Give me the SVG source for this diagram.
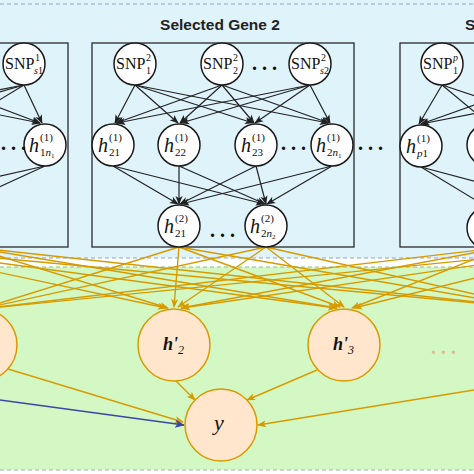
<svg xmlns="http://www.w3.org/2000/svg" width="474" height="474" viewBox="0 0 474 474">
<style>
.nd{fill:#ffffff;stroke:#1a1a1a;stroke-width:1.5}
.box{fill:none;stroke:#2a2a2a;stroke-width:1.3}
.bk{stroke:#222;stroke-width:1.2;fill:none}
.or{stroke:#d79b00;stroke-width:1.4;fill:none}
.bl{stroke:#3b46a8;stroke-width:1.5;fill:none}
.hp{fill:#ffe6cc;stroke:#d79b00;stroke-width:1.5}
.m{font-family:"Liberation Serif","DejaVu Serif",serif;fill:#111}
.big{font-size:16px}
.sc{font-size:10px}
.it{font-style:italic}
.hh{font-size:20px;font-style:italic}
.hs{font-size:11px}
.dots{font-family:"Liberation Serif",serif;font-size:20px;font-weight:bold;fill:#111}
.ttl{font-family:"Liberation Sans",Arial,sans-serif;font-weight:bold;font-size:15.5px;fill:#222}
</style>
<defs>
<marker id="ab" viewBox="0 0 10 10" refX="9" refY="5" markerWidth="9" markerHeight="9" orient="auto" markerUnits="userSpaceOnUse"><path d="M0,1 L10,5 L0,9 L2.5,5 z" fill="#222"/></marker>
<marker id="ao" viewBox="0 0 10 10" refX="9" refY="5" markerWidth="9" markerHeight="9" orient="auto" markerUnits="userSpaceOnUse"><path d="M0,1 L10,5 L0,9 L2.5,5 z" fill="#d79b00"/></marker>
<marker id="ablu" viewBox="0 0 10 10" refX="9" refY="5" markerWidth="10" markerHeight="10" orient="auto" markerUnits="userSpaceOnUse"><path d="M0,1 L10,5 L0,9 L2.5,5 z" fill="#3b46a8"/></marker>
</defs>

<g id="background">
<rect x="0" y="0" width="474" height="474" fill="#ffffff"/>
<rect x="0" y="0" width="474" height="258" fill="#dff3fb"/>
<rect x="0" y="267" width="474" height="203" fill="#d4f8c4"/>
<line x1="0" y1="4" x2="474" y2="4" stroke="#8aa6c4" stroke-width="1.2" stroke-dasharray="4,3"/>
<line x1="0" y1="258" x2="474" y2="258" stroke="#8aa6c4" stroke-width="1.2" stroke-dasharray="4,3"/>
<line x1="0" y1="267" x2="474" y2="267" stroke="#8fbf7a" stroke-width="1.2" stroke-dasharray="4,3"/>
<line x1="0" y1="470" x2="474" y2="470" stroke="#a0b8a0" stroke-width="1.2" stroke-dasharray="4,3"/>
</g>

<g id="titles">
<text class="ttl" x="220" y="30" text-anchor="middle">Selected Gene 2</text>
<text class="ttl" x="465" y="30">S</text>
</g>

<g id="boxes">
<rect class="box" x="-10" y="43" width="78" height="204"/>
<rect class="box" x="92" y="43" width="262" height="204"/>
<rect class="box" x="400" y="43" width="100" height="204"/>
</g>

<g id="connectors">
<line class="bk" x1="24" y1="85" x2="42" y2="123" marker-end="url(#ab)"/>
<line class="bk" x1="24" y1="85" x2="-40" y2="124"/>
<line class="bk" x1="24" y1="85" x2="-110" y2="124"/>
<line class="bk" x1="24" y1="85" x2="-180" y2="124"/>
<line class="bk" x1="-60" y1="85" x2="40" y2="123" marker-end="url(#ab)"/>
<line class="bk" x1="-150" y1="85" x2="40" y2="123" marker-end="url(#ab)"/>
<line class="bk" x1="45" y1="166" x2="-40" y2="205"/>
<line class="bk" x1="45" y1="166" x2="-130" y2="205"/>
<line class="bk" x1="135" y1="85" x2="115" y2="123" marker-end="url(#ab)"/>
<line class="bk" x1="135" y1="85" x2="178" y2="123" marker-end="url(#ab)"/>
<line class="bk" x1="135" y1="85" x2="253" y2="123" marker-end="url(#ab)"/>
<line class="bk" x1="135" y1="85" x2="328" y2="123" marker-end="url(#ab)"/>
<line class="bk" x1="222" y1="85" x2="116" y2="123" marker-end="url(#ab)"/>
<line class="bk" x1="222" y1="85" x2="180" y2="123" marker-end="url(#ab)"/>
<line class="bk" x1="222" y1="85" x2="254" y2="123" marker-end="url(#ab)"/>
<line class="bk" x1="222" y1="85" x2="329" y2="123" marker-end="url(#ab)"/>
<line class="bk" x1="310" y1="85" x2="117" y2="123" marker-end="url(#ab)"/>
<line class="bk" x1="310" y1="85" x2="181" y2="123" marker-end="url(#ab)"/>
<line class="bk" x1="310" y1="85" x2="255" y2="123" marker-end="url(#ab)"/>
<line class="bk" x1="310" y1="85" x2="330" y2="123" marker-end="url(#ab)"/>
<line class="bk" x1="113" y1="166" x2="178" y2="204" marker-end="url(#ab)"/>
<line class="bk" x1="113" y1="166" x2="264" y2="204" marker-end="url(#ab)"/>
<line class="bk" x1="179" y1="166" x2="179" y2="204" marker-end="url(#ab)"/>
<line class="bk" x1="179" y1="166" x2="265" y2="204" marker-end="url(#ab)"/>
<line class="bk" x1="256" y1="166" x2="180" y2="204" marker-end="url(#ab)"/>
<line class="bk" x1="256" y1="166" x2="266" y2="204" marker-end="url(#ab)"/>
<line class="bk" x1="332" y1="166" x2="181" y2="204" marker-end="url(#ab)"/>
<line class="bk" x1="332" y1="166" x2="267" y2="204" marker-end="url(#ab)"/>
<line class="bk" x1="442" y1="85" x2="419" y2="124" marker-end="url(#ab)"/>
<line class="bk" x1="442" y1="85" x2="489" y2="124"/>
<line class="bk" x1="442" y1="85" x2="560" y2="124"/>
<line class="bk" x1="530" y1="85" x2="421" y2="124" marker-end="url(#ab)"/>
<line class="bk" x1="620" y1="85" x2="421" y2="124" marker-end="url(#ab)"/>
<line class="bk" x1="421" y1="167" x2="487" y2="207"/>
<line class="bk" x1="421" y1="167" x2="570" y2="207"/>
<line class="or" x1="-120" y1="247" x2="166" y2="308" marker-end="url(#ao)"/>
<line class="or" x1="-30" y1="247" x2="168" y2="308" marker-end="url(#ao)"/>
<line class="or" x1="179" y1="247" x2="174" y2="307" marker-end="url(#ao)"/>
<line class="or" x1="266" y1="247" x2="178" y2="307" marker-end="url(#ao)"/>
<line class="or" x1="505" y1="247" x2="181" y2="308" marker-end="url(#ao)"/>
<line class="or" x1="600" y1="247" x2="182" y2="308" marker-end="url(#ao)"/>
<line class="or" x1="-120" y1="247" x2="336" y2="308" marker-end="url(#ao)"/>
<line class="or" x1="-30" y1="247" x2="337" y2="308" marker-end="url(#ao)"/>
<line class="or" x1="179" y1="247" x2="340" y2="307" marker-end="url(#ao)"/>
<line class="or" x1="266" y1="247" x2="344" y2="307" marker-end="url(#ao)"/>
<line class="or" x1="505" y1="247" x2="352" y2="308" marker-end="url(#ao)"/>
<line class="or" x1="600" y1="247" x2="354" y2="308" marker-end="url(#ao)"/>
<line class="or" x1="-120" y1="247" x2="-19" y2="309"/>
<line class="or" x1="-30" y1="247" x2="-19" y2="309"/>
<line class="or" x1="179" y1="247" x2="-19" y2="309"/>
<line class="or" x1="266" y1="247" x2="-19" y2="309"/>
<line class="or" x1="505" y1="247" x2="-19" y2="309"/>
<line class="or" x1="600" y1="247" x2="-19" y2="309"/>
<line class="or" x1="-120" y1="247" x2="540" y2="309"/>
<line class="or" x1="-30" y1="247" x2="540" y2="309"/>
<line class="or" x1="179" y1="247" x2="540" y2="309"/>
<line class="or" x1="266" y1="247" x2="540" y2="309"/>
<line class="or" x1="505" y1="247" x2="540" y2="309"/>
<line class="or" x1="600" y1="247" x2="540" y2="309"/>
<line class="or" x1="8" y1="369" x2="183" y2="422" marker-end="url(#ao)"/>
<line class="bl" x1="0" y1="400" x2="184" y2="425" marker-end="url(#ablu)"/>
<line class="or" x1="175" y1="380" x2="195" y2="400" marker-end="url(#ao)"/>
<line class="or" x1="317" y1="370" x2="247" y2="400" marker-end="url(#ao)"/>
<line class="or" x1="474" y1="390" x2="258" y2="425" marker-end="url(#ao)"/>
</g>

<g id="snp1_s1">
<circle class="nd" cx="24" cy="64" r="21"/>
<text class="m big" x="5" y="69">SNP</text>
<text class="m sc" x="35" y="61">1</text>
<text class="m sc" x="34" y="74"><tspan class="it">s</tspan>1</text>
</g>
<g id="h1_1n1">
<circle class="nd" cx="45" cy="145" r="21"/>
<text class="m hh" x="29" y="152">h</text>
<text class="m hs" x="40" y="141">(1)</text>
<text class="m hs" x="40" y="156">1<tspan class="it">n</tspan><tspan font-size="7" dy="2">1</tspan></text>
</g>

<g id="snp2_1">
<circle class="nd" cx="135" cy="64" r="21"/>
<text class="m big" x="116" y="69">SNP</text>
<text class="m sc" x="146" y="61">2</text>
<text class="m sc" x="146" y="74">1</text>
</g>
<g id="snp2_2">
<circle class="nd" cx="222" cy="64" r="21"/>
<text class="m big" x="203" y="69">SNP</text>
<text class="m sc" x="233" y="61">2</text>
<text class="m sc" x="233" y="74">2</text>
</g>
<g id="snp2_s2">
<circle class="nd" cx="310" cy="64" r="21"/>
<text class="m big" x="291" y="69">SNP</text>
<text class="m sc" x="321" y="61">2</text>
<text class="m sc" x="320" y="74"><tspan class="it">s</tspan>2</text>
</g>
<g id="h1_21">
<circle class="nd" cx="113" cy="145" r="21"/>
<text class="m hh" x="98" y="152">h</text>
<text class="m hs" x="109" y="141">(1)</text>
<text class="m hs" x="109" y="156">21</text>
</g>
<g id="h1_22">
<circle class="nd" cx="179" cy="145" r="21"/>
<text class="m hh" x="164" y="152">h</text>
<text class="m hs" x="175" y="141">(1)</text>
<text class="m hs" x="175" y="156">22</text>
</g>
<g id="h1_23">
<circle class="nd" cx="256" cy="145" r="21"/>
<text class="m hh" x="241" y="152">h</text>
<text class="m hs" x="252" y="141">(1)</text>
<text class="m hs" x="252" y="156">23</text>
</g>
<g id="h1_2n1">
<circle class="nd" cx="332" cy="145" r="21"/>
<text class="m hh" x="316" y="152">h</text>
<text class="m hs" x="327" y="141">(1)</text>
<text class="m hs" x="327" y="156">2<tspan class="it">n</tspan><tspan font-size="7" dy="2">1</tspan></text>
</g>
<g id="h2_21">
<circle class="nd" cx="179" cy="226" r="21"/>
<text class="m hh" x="164" y="233">h</text>
<text class="m hs" x="175" y="222">(2)</text>
<text class="m hs" x="175" y="237">21</text>
</g>
<g id="h2_2n2">
<circle class="nd" cx="266" cy="226" r="21"/>
<text class="m hh" x="250" y="233">h</text>
<text class="m hs" x="261" y="222">(2)</text>
<text class="m hs" x="261" y="237">2<tspan class="it">n</tspan><tspan font-size="7" dy="2">2</tspan></text>
</g>

<g id="snpp_1">
<circle class="nd" cx="442" cy="64" r="21"/>
<text class="m big" x="423" y="69">SNP</text>
<text class="m sc it" x="453" y="61">p</text>
<text class="m sc" x="453" y="74">1</text>
</g>
<g id="h1_p1">
<circle class="nd" cx="421" cy="146" r="21"/>
<text class="m hh" x="406" y="153">h</text>
<text class="m hs" x="417" y="142">(1)</text>
<text class="m hs" x="417" y="157"><tspan class="it">p</tspan>1</text>
</g>
<g id="h1_p2">
<circle class="nd" cx="488" cy="145" r="21"/>
</g>
<g id="h2_p1">
<circle class="nd" cx="488" cy="228" r="21"/>
</g>

<g id="ellipses">
<text class="dots" x="1" y="150">. . .</text>
<text class="dots" x="252" y="70">. . .</text>
<text class="dots" x="281" y="150">. . .</text>
<text class="dots" x="358" y="150">. . .</text>
<text class="dots" x="210" y="237">. . .</text>
<text x="431" y="354" font-family="Liberation Serif,serif" font-size="20" font-weight="bold" fill="#e8b890">. . .</text>
</g>

<g id="hprime_1">
<circle class="hp" cx="-19" cy="345" r="36"/>
</g>
<g id="hprime_2">
<circle class="hp" cx="174" cy="345" r="36"/>
<text class="m it" font-size="18" font-weight="bold" x="163" y="350">h'<tspan font-size="12" font-weight="normal" dy="4">2</tspan></text>
</g>
<g id="hprime_3">
<circle class="hp" cx="344" cy="345" r="36"/>
<text class="m it" font-size="18" font-weight="bold" x="333" y="350">h'<tspan font-size="12" font-weight="normal" dy="4">3</tspan></text>
</g>
<g id="y">
<circle class="hp" cx="221" cy="425" r="36"/>
<text class="m it" font-size="22" x="214" y="430">y</text>
</g>
</svg>
